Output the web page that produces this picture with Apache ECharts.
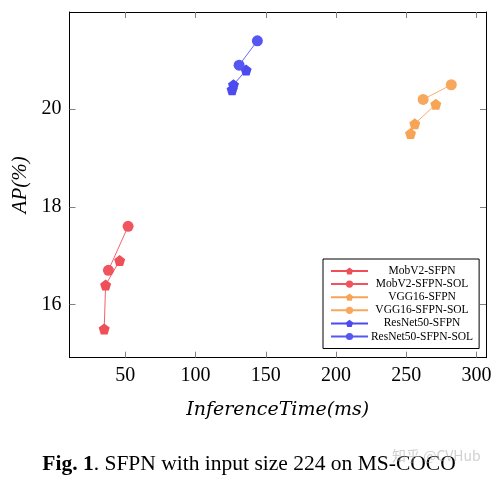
<!DOCTYPE html>
<html>
<head>
<meta charset="utf-8">
<script src="https://cdn.jsdelivr.net/npm/echarts@6/dist/echarts.min.js"></script>
<style>
html,body{margin:0;padding:0;background:#fff;}
#c{width:498px;height:480px;}
</style>
</head>
<body>
<div id="c"></div>
<script>
// ---- data ----
const seriesNames = ['MobV2-SFPN','MobV2-SFPN-SOL','VGG16-SFPN','VGG16-SFPN-SOL','ResNet50-SFPN','ResNet50-SFPN-SOL'];
const mobV2SFPN      = [[35,15.5],[36,16.4],[46,16.9]];
const mobV2SFPNSOL   = [[38,16.7],[52,17.6]];
const vgg16SFPN      = [[253,19.5],[256,19.7],[271,20.1]];
const vgg16SFPNSOL   = [[262,20.2],[282,20.5]];
const resnet50SFPN   = [[126,20.4],[127,20.5],[136,20.8]];
const resnet50SFPNSOL= [[131,20.9],[144,21.4]];
const xTicks = [50,100,150,200,250,300];
const yTicks = [16,18,20];

const PENT = 'path://M0,-1 L0.951,-0.309 L0.588,0.809 L-0.588,0.809 L-0.951,-0.309 Z';
const colors = ['#ef4f59','#f0545e','#f7a456','#f7a85c','#4b4bf0','#5656f2'];
const dataSets = [mobV2SFPN,mobV2SFPNSOL,vgg16SFPN,vgg16SFPNSOL,resnet50SFPN,resnet50SFPNSOL];

const serif = '"Liberation Serif","DejaVu Serif",serif';
const wideSerif = '"DejaVu Serif","Liberation Serif",serif';
const xMin = 10.3, xMax = 306.7, yMin = 14.91, yMax = 21.99;

const tickStyle = {inside:true, length:6, lineStyle:{color:'#808080', width:1}};
const lineStyleAxis = {show:true, onZero:false, lineStyle:{color:'#000', width:1}};

const chart = echarts.init(document.getElementById('c'), null, {renderer:'canvas'});
chart.setOption({
  animation:false,
  backgroundColor:'#fff',
  grid:{left:69.5, right:12, top:12, bottom:122.3, containLabel:false},
  xAxis:[
    {type:'value', min:xMin, max:xMax, position:'bottom',
     axisLine:lineStyleAxis,
     axisTick:Object.assign({customValues:xTicks}, tickStyle),
     axisLabel:{customValues:xTicks, color:'#000', fontFamily:serif, fontSize:20, margin:8},
     splitLine:{show:false},
     name:'InferenceTime(ms)', nameLocation:'middle', nameGap:43,
     nameTextStyle:{fontFamily:wideSerif, fontStyle:'italic', fontSize:19, color:'#000'}},
    {type:'value', min:xMin, max:xMax, position:'top',
     axisLine:lineStyleAxis,
     axisTick:Object.assign({customValues:xTicks}, tickStyle),
     axisLabel:{show:false}, splitLine:{show:false}}
  ],
  yAxis:[
    {type:'value', min:yMin, max:yMax, position:'left',
     axisLine:lineStyleAxis,
     axisTick:Object.assign({customValues:yTicks}, tickStyle),
     axisLabel:{customValues:yTicks, color:'#000', fontFamily:serif, fontSize:20, margin:8},
     splitLine:{show:false},
     name:'AP(%)', nameLocation:'middle', nameGap:36, nameRotate:90,
     nameTextStyle:{fontFamily:serif, fontStyle:'italic', fontSize:21, color:'#000'}},
    {type:'value', min:yMin, max:yMax, position:'right',
     axisLine:lineStyleAxis,
     axisTick:Object.assign({customValues:yTicks}, tickStyle),
     axisLabel:{show:false}, splitLine:{show:false}}
  ],
  legend:{
    orient:'vertical', left:323, top:259,
    padding:[6,6,6,7],
    itemWidth:37, itemHeight:9, itemGap:1.1,
    borderColor:'#000', borderWidth:1, backgroundColor:'#fff',
    data:seriesNames,
    formatter: n => '{t|' + n + '}',
    textStyle:{fontSize:11.5, lineHeight:12, rich:{t:{fontFamily:serif, fontSize:11.5, lineHeight:12, color:'#000', width:98, align:'center'}}}
  },
  series: seriesNames.map((name,i)=>({
    name:name, type:'line', xAxisIndex:0, yAxisIndex:0,
    data:dataSets[i],
    symbol: i%2===0 ? PENT : 'circle',
    symbolSize: 11,
    itemStyle:{color:colors[i], borderWidth:0},
    lineStyle:{color:colors[i], width:0.9},
    z: 3
  })),
  graphic:[
    {type:'text', left:'center', top:453,
     style:{text:'{b|Fig. 1}. SFPN with input size 224 on MS-COCO',
            font:'21.5px ' + serif, fill:'#000',
            rich:{b:{fontWeight:'bold', fontFamily:serif, fontSize:21.5, fill:'#000'}}}},
    {type:'text', left:392, top:449,
     style:{text:'知乎 @CVHub', font:'14px "Noto Sans CJK SC","Noto Sans",sans-serif', fill:'rgba(170,170,170,0.55)'}}
  ]
});
</script>
</body>
</html>
